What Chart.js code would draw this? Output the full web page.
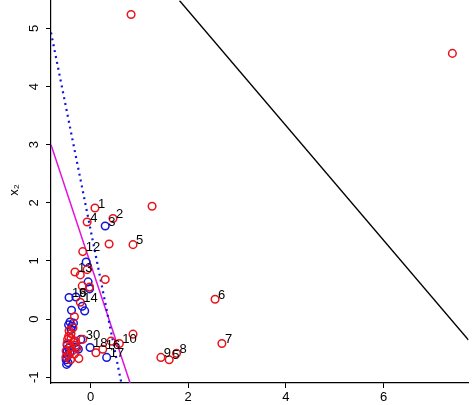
<!DOCTYPE html>
<html><head><meta charset="utf-8">
<script src="https://cdn.jsdelivr.net/npm/chart.js@4"></script>
<style>html,body{margin:0;padding:0;background:#fff;overflow:hidden}#w{width:474px;height:410px;margin-top:-5px}</style>
</head><body><div id="w"><canvas id="c"></canvas></div>
<script>
const xTicks=[0,2,4,6];
const yTicks=[-1,0,1,2,3,4,5];
const redX=[0.83,7.41,0.09,-0.07,0.46,1.26,0.87,0.38,-0.16,-0.32,-0.21,-0.07,0.30,-0.17,-0.02,-0.21,2.55,-0.33,-0.16,0.87,0.59,0.42,0.25,0.11,2.69,1.44,1.61,1.76,-0.24,-0.45,-0.40,-0.35,-0.48,-0.42,-0.30,-0.50,-0.38,-0.45,-0.33,-0.47,-0.40,-0.28,-0.44,-0.36,-0.50,-0.41,-0.31];
const redY=[5.24,4.57,1.91,1.67,1.73,1.94,1.28,1.29,1.16,0.81,0.76,0.85,0.68,0.57,0.55,0.29,0.34,0.04,-0.35,-0.26,-0.42,-0.38,-0.52,-0.58,-0.42,-0.66,-0.70,-0.59,-0.68,-0.30,-0.25,-0.40,-0.42,-0.48,-0.45,-0.55,-0.55,-0.62,-0.60,-0.35,-0.33,-0.50,-0.20,-0.15,-0.65,-0.70,-0.38];
const redLab=["","","1","4","2","","5","","12","13","","","","","","14","6","","30","","10","","16","","7","9","5","8","","","","","","","","","","","","","","","","","","",""];
const blueX=[0.30,-0.09,-0.05,-0.02,-0.44,-0.30,-0.17,-0.39,-0.12,-0.42,-0.38,-0.35,-0.45,-0.40,-0.01,0.33,-0.20,-0.30,-0.48,-0.47,-0.50,-0.46,-0.49,-0.45,-0.48,-0.42,-0.25,-0.50];
const blueY=[1.60,0.98,0.64,0.52,0.37,0.38,0.22,0.15,0.14,-0.05,-0.12,-0.07,-0.10,-0.18,-0.49,-0.66,-0.35,-0.48,-0.55,-0.62,-0.70,-0.75,-0.78,-0.50,-0.45,-0.58,-0.52,-0.66];
const blueLab=["3","","","","16","9","","","","","","","","","18","17","","","","","","","","","","","",""];
const blackLineX=[1.82,7.74], blackLineY=[5.48,-0.36];
const blueLineX=[-0.81,0.63], blueLineY=[4.93,-1.1];
const magLineX=[-0.81,0.81], magLineY=[3.0,-1.1];
const pts=(xs,ys)=>xs.map((x,i)=>({x,y:ys[i]}));
const font='"Liberation Sans", Arial, sans-serif';
const labelPlugin={id:'lab',afterDatasetsDraw(ch){
  const c=ch.ctx,xs=ch.scales.x,ys=ch.scales.y;
  c.save();c.fillStyle='#000';c.font='13px '+font;c.textBaseline='middle';c.textAlign='left';
  [[redX,redY,redLab],[blueX,blueY,blueLab]].forEach(([X,Y,L])=>X.forEach((x,i)=>{if(L[i])c.fillText(L[i],xs.getPixelForValue(x)+3,ys.getPixelForValue(Y[i])-4);}));
  c.font='13px '+font;c.textAlign='center';
  yTicks.forEach(v=>{const p=ys.getPixelForValue(v);c.save();c.translate(34,p);c.rotate(-Math.PI/2);c.fillText(String(v),0,0);c.restore();});
  c.save();c.translate(14,195);c.rotate(-Math.PI/2);c.fillText('x₂',0,0);c.restore();
  c.restore();}};
new Chart(document.getElementById('c'),{type:'scatter',
 data:{datasets:[
  {data:pts(redX,redY),borderColor:'#e8141c',backgroundColor:'transparent',pointRadius:3.8,borderWidth:1.5},
  {data:pts(blueX,blueY),borderColor:'#1414d8',backgroundColor:'transparent',pointRadius:3.8,borderWidth:1.5},
  {data:pts(blackLineX,blackLineY),showLine:true,borderColor:'#000',borderWidth:1.3,pointRadius:0},
  {data:pts(blueLineX,blueLineY),showLine:true,borderColor:'#1414d8',borderWidth:2.2,borderDash:[2,4],pointRadius:0},
  {data:pts(magLineX,magLineY),showLine:true,borderColor:'#e010e0',borderWidth:1.5,pointRadius:0}]},
 options:{responsive:true,maintainAspectRatio:false,animation:false,
  layout:{padding:0},
  plugins:{legend:{display:false},tooltip:{enabled:false}},
  scales:{
   x:{type:'linear',min:-0.81,max:7.74,afterBuildTicks(s){s.ticks=xTicks.map(v=>({value:v}));},
      afterFit(s){s.height=22;},
      grid:{drawOnChartArea:false,drawTicks:true,tickLength:5,color:'#000'},border:{color:'#000',width:1.2},
      ticks:{color:'#000',font:{family:font,size:13},padding:2}},
   y:{type:'linear',min:-1.1,max:5.48,afterBuildTicks(s){s.ticks=yTicks.map(v=>({value:v}));},
      afterFit(s){s.width=51;},
      grid:{drawOnChartArea:false,drawTicks:true,tickLength:5,color:'#000'},border:{color:'#000',width:1.2},
      ticks:{display:false}}}},
 plugins:[labelPlugin]});
</script></body></html>
